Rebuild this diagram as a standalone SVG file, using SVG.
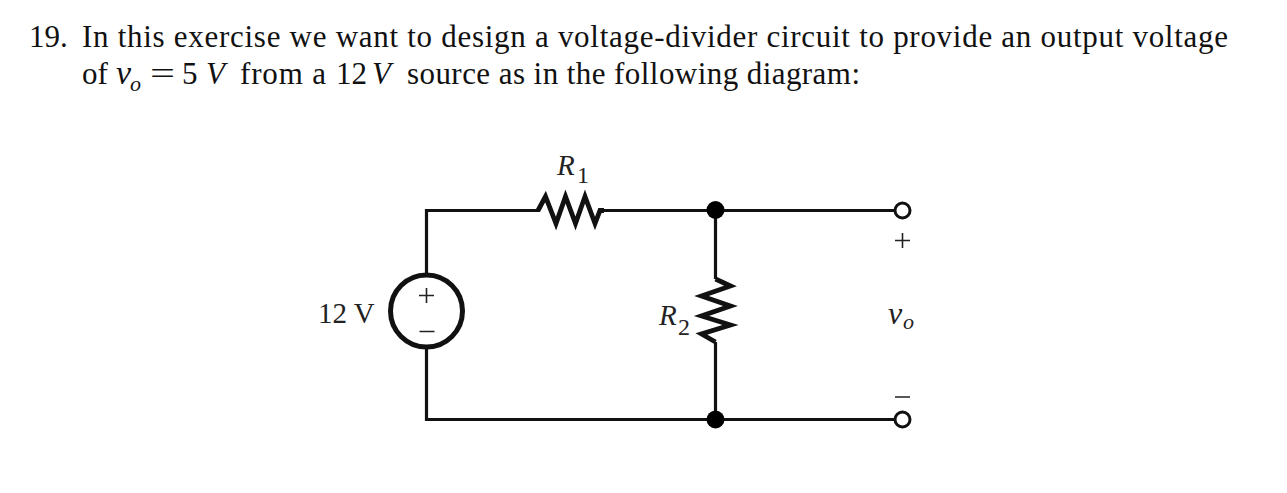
<svg xmlns="http://www.w3.org/2000/svg" width="1287" height="493" viewBox="0 0 1287 493">
<style>
.w{fill:none;stroke:#111;stroke-width:3.2;stroke-linejoin:miter}
.z{fill:none;stroke:#111;stroke-width:4.800;stroke-linejoin:miter;stroke-miterlimit:8}
.t{font-family:"Liberation Serif",serif;font-size:31px;fill:#111}
.d{font-family:"Liberation Serif",serif;font-size:29px;fill:#222}
.i{font-style:italic}
.s{font-size:22px}
.n{font-size:24px}
.dot{fill:#000}
.term{fill:#fff;stroke:#111;stroke-width:3}
.g{fill:none;stroke:#222;stroke-width:1.600}
</style>
<rect width="1287" height="493" fill="#fff"/>
<g id="problem-text">
<text class="t" x="29" y="47">19.</text>
<text class="t" x="82" y="47" textLength="1146" lengthAdjust="spacing">In this exercise we want to design a voltage-divider circuit to provide an output voltage</text>
<text class="t" x="82" y="84">of</text>
<text class="t i" x="116" y="84" style="font-size:34px">v</text>
<text class="t i s" x="130" y="91">o</text>
<text class="t" x="150" y="84" textLength="25" lengthAdjust="spacingAndGlyphs">=</text>
<text class="t" x="182" y="84">5</text>
<text class="t i" x="206" y="84">V</text>
<text class="t" x="240" y="84" textLength="86" lengthAdjust="spacing">from a</text>
<text class="t" x="336" y="84">12</text>
<text class="t i" x="372" y="84">V</text>
<text class="t" x="407" y="84" textLength="453" lengthAdjust="spacing">source as in the following diagram:</text>
</g>
<g id="connectors">
<path class="w" d="M426.500 275V210.500H540"/>
<path class="w" d="M603 210.500H894"/>
<path class="w" d="M426.500 347V419.500H894"/>
<path class="w" d="M715.500 210V279"/>
<path class="w" d="M715.500 342V419.500"/>
</g>
<g id="R1">
<path class="z" d="M538 210.500L545.500 196.500L556 223.500L565.500 196.500L575.500 223.500L585 196.500L595 223.500L600 210.500L604 210.500"/>
<text class="d i" x="557" y="175">R</text>
<text class="d n" x="577" y="183">1</text>
</g>
<g id="R2">
<path class="z" d="M715.500 279L730.500 286L701.500 296L730.500 306L701.500 316L730.500 325L701.500 334L715.500 342"/>
<text class="d i" x="659" y="325">R</text>
<text class="d n" x="678" y="335">2</text>
</g>
<g id="source">
<circle cx="426.500" cy="311" r="36" fill="#fff" stroke="#111" stroke-width="5"/>
<text class="d" x="318" y="323">12 V</text>
<path class="g" d="M426.500 288V303M419 295.500H434M419.500 331.500H434.500"/>
</g>
<g id="junction-top"><circle class="dot" cx="715.500" cy="210" r="9"/></g>
<g id="junction-bottom"><circle class="dot" cx="715.500" cy="419.500" r="9"/></g>
<g id="terminal-top"><circle class="term" cx="902.500" cy="210.500" r="7.500"/></g>
<g id="terminal-bottom"><circle class="term" cx="902.500" cy="419.500" r="7.500"/></g>
<g id="output-labels">
<path class="g" d="M902.500 233V248M895 240.500H910M895 397H910"/>
<text class="d i" x="888" y="324" style="font-size:32px">v</text>
<text class="d i s" x="903" y="329">o</text>
</g>
</svg>
